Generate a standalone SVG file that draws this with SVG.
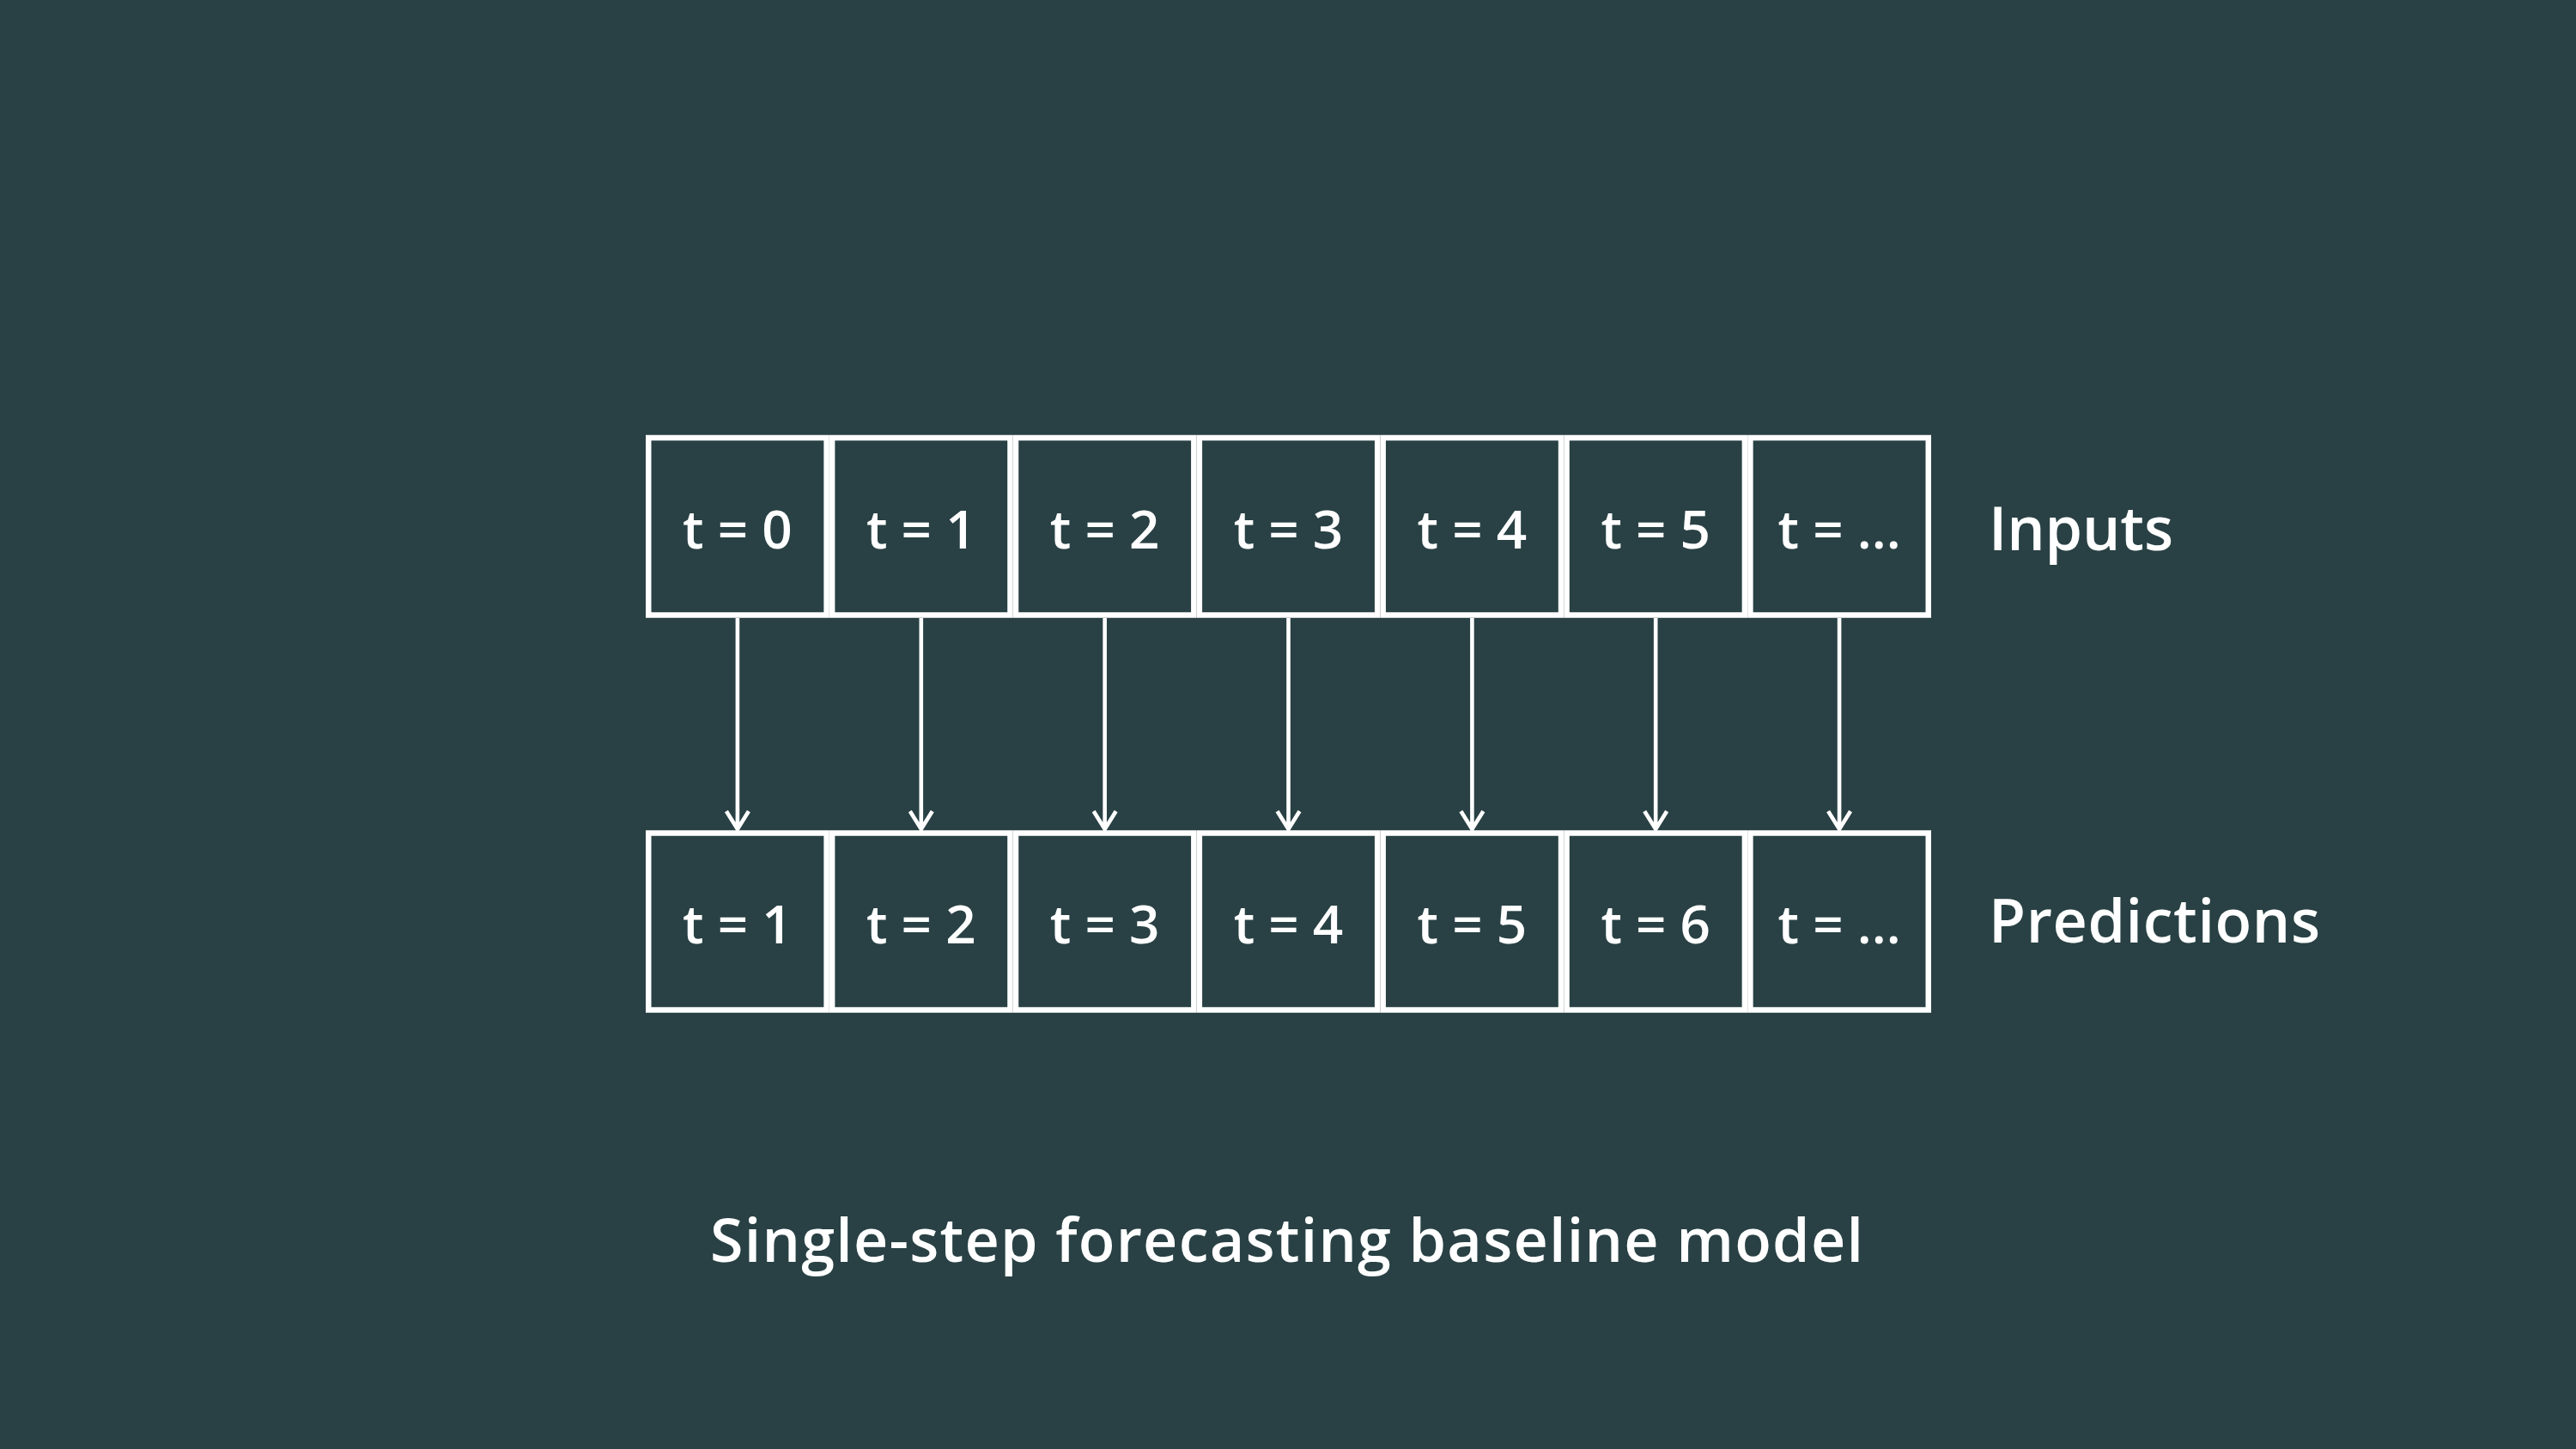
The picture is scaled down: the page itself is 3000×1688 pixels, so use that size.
<svg xmlns="http://www.w3.org/2000/svg" width="3000" height="1688" viewBox="0 0 3000 1688">
<style>
.bg{fill:#294144}
.cell{fill:none;stroke:#ffffff;stroke-width:6.5}
.ct{font-family:"Open Sans","Liberation Sans",sans-serif;font-weight:600;font-size:62px;fill:#ffffff;text-anchor:middle}
.lbl{font-family:"Open Sans","Liberation Sans",sans-serif;font-weight:600;font-size:70px;fill:#ffffff}
.ttl{font-family:"Open Sans","Liberation Sans",sans-serif;font-weight:600;font-size:70px;fill:#ffffff;text-anchor:middle}
.arr{fill:none;stroke:#ffffff;stroke-width:4.6;stroke-linecap:butt;stroke-linejoin:miter}
</style>
<rect class="bg" x="0" y="0" width="3000" height="1688"/>
<g id="inputs">
<g id="in0"><rect class="cell" x="755.25" y="510" width="207.36" height="206.5"/><text class="ct" x="858.9" y="639">t = 0</text></g>
<g id="in1"><rect class="cell" x="969.11" y="510" width="207.36" height="206.5"/><text class="ct" x="1072.8" y="639">t = 1</text></g>
<g id="in2"><rect class="cell" x="1182.97" y="510" width="207.36" height="206.5"/><text class="ct" x="1286.65" y="639">t = 2</text></g>
<g id="in3"><rect class="cell" x="1396.83" y="510" width="207.36" height="206.5"/><text class="ct" x="1500.5" y="639">t = 3</text></g>
<g id="in4"><rect class="cell" x="1610.69" y="510" width="207.36" height="206.5"/><text class="ct" x="1714.4" y="639">t = 4</text></g>
<g id="in5"><rect class="cell" x="1824.55" y="510" width="207.36" height="206.5"/><text class="ct" x="1928.2" y="639">t = 5</text></g>
<g id="in6"><rect class="cell" x="2038.41" y="510" width="207.36" height="206.5"/><text class="ct" x="2142.1" y="639">t = ...</text></g>
</g>
<g id="predictions">
<g id="pr0"><rect class="cell" x="755.25" y="970.5" width="207.36" height="206"/><text class="ct" x="858.9" y="1099">t = 1</text></g>
<g id="pr1"><rect class="cell" x="969.11" y="970.5" width="207.36" height="206"/><text class="ct" x="1072.8" y="1099">t = 2</text></g>
<g id="pr2"><rect class="cell" x="1182.97" y="970.5" width="207.36" height="206"/><text class="ct" x="1286.65" y="1099">t = 3</text></g>
<g id="pr3"><rect class="cell" x="1396.83" y="970.5" width="207.36" height="206"/><text class="ct" x="1500.5" y="1099">t = 4</text></g>
<g id="pr4"><rect class="cell" x="1610.69" y="970.5" width="207.36" height="206"/><text class="ct" x="1714.4" y="1099">t = 5</text></g>
<g id="pr5"><rect class="cell" x="1824.55" y="970.5" width="207.36" height="206"/><text class="ct" x="1928.2" y="1099">t = 6</text></g>
<g id="pr6"><rect class="cell" x="2038.41" y="970.5" width="207.36" height="206"/><text class="ct" x="2142.1" y="1099">t = ...</text></g>
</g>
<g id="connectors">
<path class="arr" d="M858.9 720V966M845.9 945L858.9 966L871.9 945"/>
<path class="arr" d="M1072.8 720V966M1059.8 945L1072.8 966L1085.8 945"/>
<path class="arr" d="M1286.65 720V966M1273.65 945L1286.65 966L1299.65 945"/>
<path class="arr" d="M1500.5 720V966M1487.5 945L1500.5 966L1513.5 945"/>
<path class="arr" d="M1714.4 720V966M1701.4 945L1714.4 966L1727.4 945"/>
<path class="arr" d="M1928.2 720V966M1915.2 945L1928.2 966L1941.2 945"/>
<path class="arr" d="M2142.1 720V966M2129.1 945L2142.1 966L2155.1 945"/>
</g>
<g id="label-inputs"><text class="lbl" x="2316" y="641" textLength="215" lengthAdjust="spacing">Inputs</text></g>
<g id="label-predictions"><text class="lbl" x="2316" y="1098" textLength="386" lengthAdjust="spacing">Predictions</text></g>
<g id="title"><text class="ttl" x="1498.5" y="1470" textLength="1343" lengthAdjust="spacing">Single-step forecasting baseline model</text></g>
</svg>
